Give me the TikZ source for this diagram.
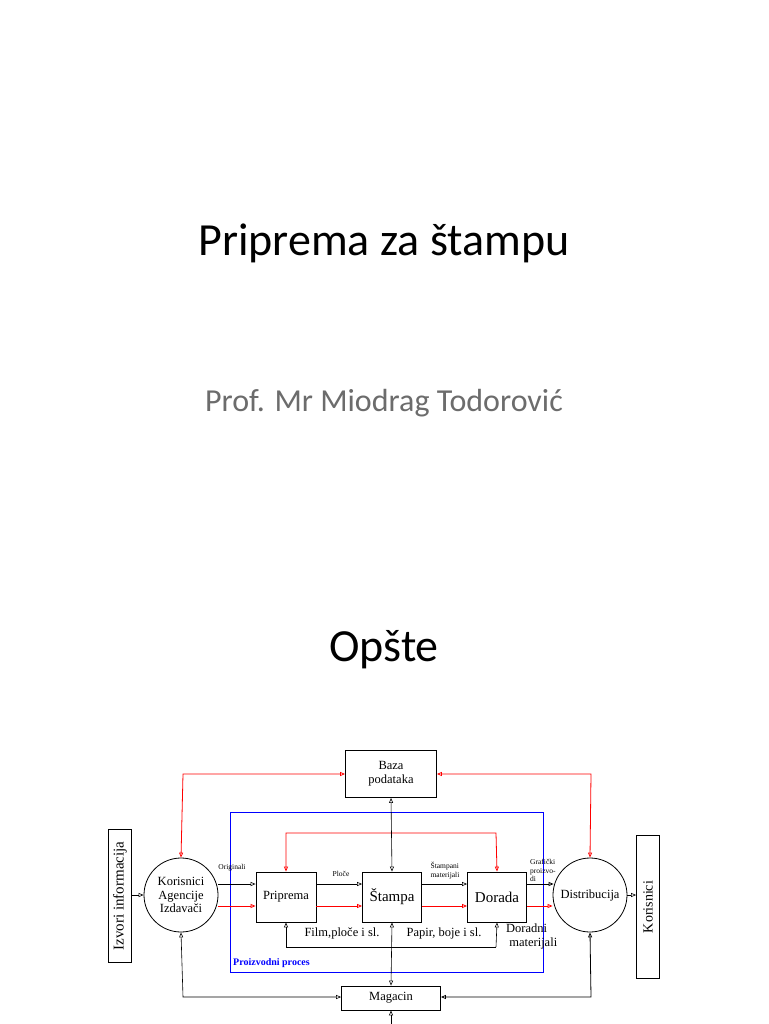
\documentclass[tikz,border=0pt]{standalone}
\usepackage{fontspec}
\setmainfont{Carlito}
\newfontfamily\tms{Liberation Serif}
\usetikzlibrary{arrows.meta}
\begin{document}
\begin{tikzpicture}[x=1pt,y=-1pt,
  box/.style={draw,thick,inner sep=0pt,font=\tms\fontsize{12.5}{14}\selectfont,align=center},
  circ/.style={draw,thick,circle,minimum size=74pt,inner sep=0pt,font=\tms\fontsize{12.5}{13.5}\selectfont,align=center},
  tip/.style={-{Triangle[open,length=5pt,width=4pt]}},
  tips/.style={{Triangle[open,length=5pt,width=4pt]}-{Triangle[open,length=5pt,width=4pt]}},
  bl/.style={black,semithick},
  rd/.style={red,thick},
  lbl/.style={font=\tms\fontsize{7.5}{8.5}\selectfont,inner sep=0pt,align=left},
  lbb/.style={font=\tms\fontsize{12.5}{14}\selectfont,inner sep=0pt,align=left}]
\useasboundingbox[fill=white] (0,0) rectangle (768,1024);
\node (t) at (384,243) {\fontsize{46}{50}\selectfont Priprema za štampu};
\node[text=gray!85!black] (s) at (384,403) {\fontsize{32}{36}\selectfont Prof. Mr Miodrag Todorović};
\node (o) at (384,650) {\fontsize{46}{50}\selectfont Opšte};
% boxes
\draw[blue,thick] (230,812) rectangle (543,972);
\node[blue,font=\tms\bfseries\fontsize{10}{11}\selectfont,anchor=west,inner sep=0pt] (pp) at (233,963) {Proizvodni proces};
\node[box,minimum width=91pt,minimum height=47pt] (baza) at (391,774) {Baza\\podataka};
\node[box,minimum width=99pt,minimum height=24pt] (mag) at (391,998) {Magacin};
\node[box,minimum width=60pt,minimum height=50pt] (pri) at (286,897) {Priprema};
\node[box,minimum width=59pt,minimum height=50pt,font=\tms\fontsize{15}{16}\selectfont] (sta) at (392,897) {Štampa};
\node[box,minimum width=59pt,minimum height=50pt,font=\tms\fontsize{15}{16}\selectfont] (dor) at (497,897) {Dorada};
\node[circ] (kor) at (181,895) {Korisnici\\Agencije\\Izdavači};
\node[circ] (dis) at (590,895) {Distribucija};
\node[box,minimum width=23pt,minimum height=133pt] (izv) at (120,896) {};
\node[rotate=90,font=\tms\fontsize{15}{16}\selectfont] (izvt) at (izv) {Izvori informacija};
\node[box,minimum width=23pt,minimum height=143pt] (kr) at (648,907) {};
\node[rotate=90,font=\tms\fontsize{14}{16}\selectfont] (krt) at (kr) {Korisnici};
% coordinates
\coordinate (k1) at (183,774);
\coordinate (d1) at (591,774);
\coordinate (r1) at (286,833);
\coordinate (r2) at (496,833);
\coordinate (g1) at (286,947);
\coordinate (g2) at (496,947);
\coordinate (m1) at (183,997);
\coordinate (m2) at (591,997);
\coordinate (bot) at (391,1024);
% red top
\draw[rd,tips] (kor.north) -- (k1) -- (baza.west |- k1);
\draw[rd,tips] (dis.north) -- (d1) -- (baza.east |- d1);
\draw[rd,tips] (pri.north) -- (r1) -- (r2) -- (dor.north);
% horizontal flows
\draw[bl,tip] (kor.east |- 0,884) -- (pri.west |- 0,884);
\draw[rd,tip] (kor.east |- 0,906) -- (pri.west |- 0,906);
\draw[bl,tip] (pri.east |- 0,884) -- (sta.west |- 0,884);
\draw[rd,tip] (pri.east |- 0,906) -- (sta.west |- 0,906);
\draw[bl,tip] (sta.east |- 0,884) -- (dor.west |- 0,884);
\draw[rd,tip] (sta.east |- 0,906) -- (dor.west |- 0,906);
\draw[bl,thick,tip] (dor.east |- 0,884) -- ([xshift=1pt]dis.west |- 0,884);
\draw[rd,tip] (dor.east |- 0,906) -- (dis.west |- 0,906);
\draw[bl,tip] (izv.east |- kor) -- (kor.west);
\draw[bl,tip] (dis.east) -- (kr.west |- dis);
% verticals
\draw[bl,tips] (baza.south) -- (sta.north);
\draw[bl,tips] (sta.south) -- (mag.north);
\draw[bl,tip] (bot) -- (mag.south);
\draw[bl,tip] (g1) -- (pri.south);
\draw[bl,tip] (g2) -- (dor.south);
\draw[bl] (g1) -- (g2);
% bottom
\draw[bl,tips] (kor.south) -- (m1) -- (mag.west |- m1);
\draw[bl,thick,tips] (dis.south) -- (m2) -- (mag.east |- m2);
% labels
\node[lbl,anchor=south] (l1) at (232,871) {Originali};
\node[lbl,anchor=south] (l2) at (341,877) {Ploče};
\node[lbl,anchor=south] (l3) at (445,879) {Štampani\\materijali};
\node[lbl,anchor=south west] (l4) at (530,882) {Grafički\\proizvo-\\di};
\node[lbb] (l5) at (342,933) {Film,ploče i sl.};
\node[lbb] (l6) at (444,933) {Papir, boje i sl.};
\node[lbb,anchor=north west] (l7) at (506,924) {Doradni\\\ materijali};
\end{tikzpicture}
\end{document}
